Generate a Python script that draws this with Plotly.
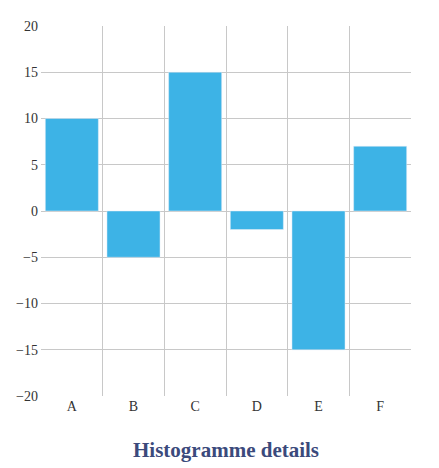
import plotly.graph_objects as go

categories = ["A", "B", "C", "D", "E", "F"]
values = [10, -5, 15, -2, -15, 7]
y_ticks = [-20, -15, -10, -5, 0, 5, 10, 15, 20]

fig = go.Figure(go.Bar(x=list(range(len(categories))), y=values, marker_color="#3db3e6",
                       width=0.86, cliponaxis=False))
fig.update_layout(
    width=439, height=468, margin=dict(l=33, r=36, t=18, b=80, autoexpand=False),
    plot_bgcolor="white", paper_bgcolor="white", showlegend=False,
    font=dict(family="Liberation Serif", size=14, color="#333"),
    xaxis=dict(range=[-0.5, 5.5], tickvals=list(range(len(categories))), ticktext=categories,
               showgrid=False, zeroline=False, showline=False, automargin=False,
               minor=dict(tick0=-0.5, dtick=1, showgrid=True, gridcolor="#c8c8c8",
                          ticks="", ticklen=0)),
    yaxis=dict(range=[-20, 20], tickvals=y_ticks, showgrid=True, gridcolor="#c8c8c8",
               zeroline=False, ticks="", ticklabelstandoff=2, automargin=False),
    annotations=[dict(text="<b>Histogramme details</b>", x=0.5, xref="paper", y=-0.145,
                      yref="paper", yanchor="middle", showarrow=False,
                      font=dict(family="Liberation Serif", size=21, color="#3b4a7c"))],
)
fig.write_html("out.html")
